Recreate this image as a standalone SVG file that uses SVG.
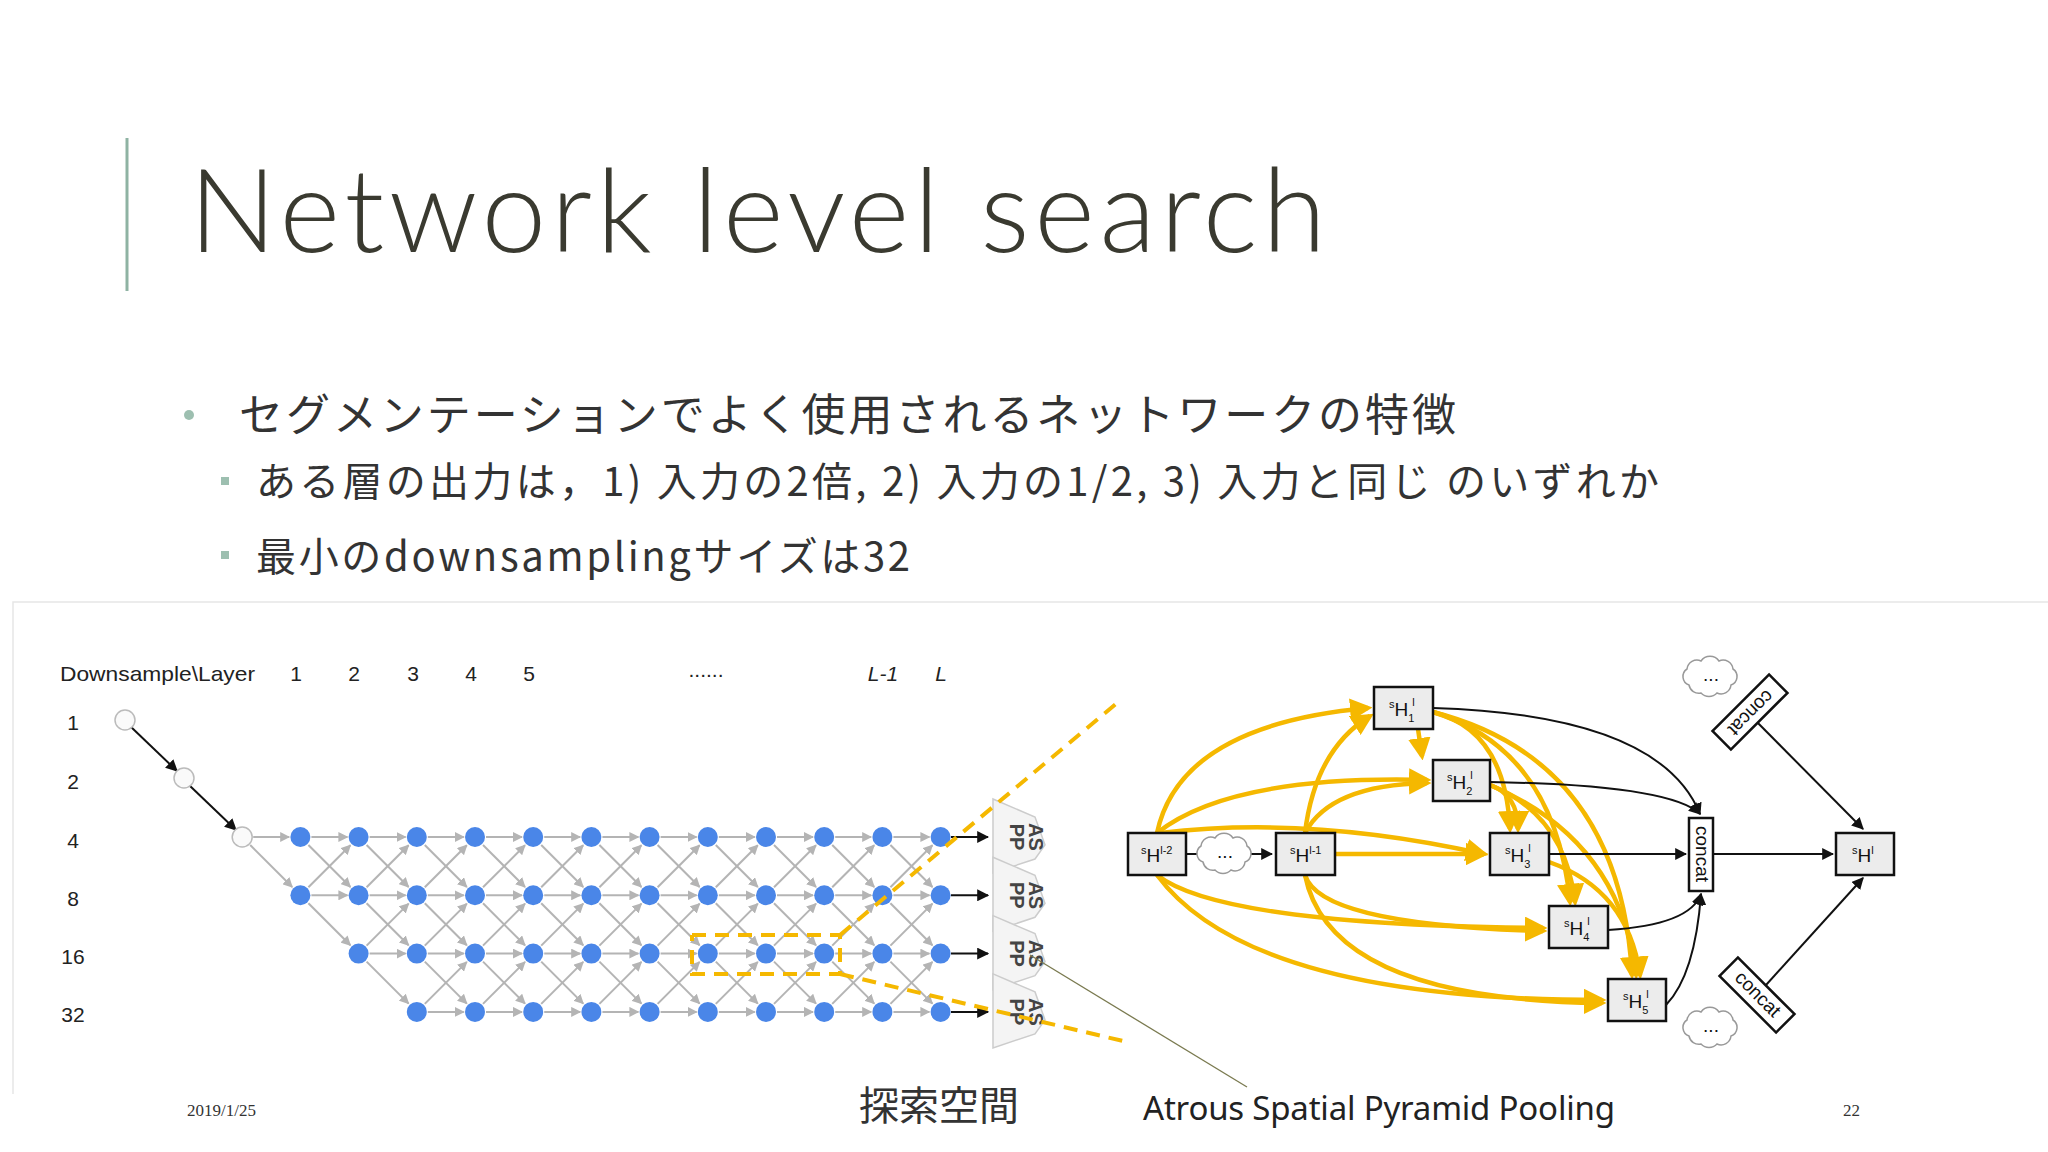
<svg xmlns="http://www.w3.org/2000/svg" xmlns:xlink="http://www.w3.org/1999/xlink" width="2048" height="1152" viewBox="0 0 2048 1152">
<style>
.jp{font-family:"Noto Sans CJK JP","Noto Sans",sans-serif;fill:#333}
.lbl{font-family:"Liberation Sans",Arial,sans-serif;font-size:21px;fill:#222}
.g{stroke:#b4b4b4;stroke-width:2;marker-end:url(#ga)}
.bn{fill:#4a86e8}
.wn{fill:#fafafa;stroke:#bbb;stroke-width:1.5}
.y{fill:none;stroke:#f5b800;stroke-width:4.5;marker-end:url(#ya)}
.k{fill:none;stroke:#111;stroke-width:2;marker-end:url(#ka)}
.box{fill:#ececec;stroke:#111;stroke-width:2.5}
.ht{font-family:"Liberation Sans",Arial,sans-serif;font-size:19px;fill:#111}
.cl{fill:#fff;stroke:#999;stroke-width:1.5}
.aspp{fill:#f4f4f4;stroke:#ccc;stroke-width:1.5}
.at{font-family:"Liberation Sans",Arial,sans-serif;font-size:20px;font-weight:bold;fill:#444}
</style>
<defs>
<marker id="ga" viewBox="0 0 10 10" refX="9" refY="5" markerWidth="5" markerHeight="5" orient="auto"><path d="M0,0L10,5L0,10z" fill="#b4b4b4"/></marker>
<marker id="ya" viewBox="0 0 10 10" refX="8" refY="5" markerWidth="5" markerHeight="5" orient="auto"><path d="M0,0L10,5L0,10z" fill="#f5b800"/></marker>
<marker id="ka" viewBox="0 0 10 10" refX="9" refY="5" markerWidth="6" markerHeight="6" orient="auto"><path d="M0,0L10,5L0,10z" fill="#111"/></marker>
<line id="h" class="g" x1="11" y1="0" x2="47" y2="0"/>
<line id="d" class="g" x1="8" y1="8" x2="50" y2="50"/>
<line id="u" class="g" x1="8" y1="-8" x2="50" y2="-50"/>
<path id="cloud" class="cl" d="M-22,8 a9,9 0 0 1 -2,-16 a10,10 0 0 1 14,-8 a11,11 0 0 1 18,0 a10,10 0 0 1 14,8 a9,9 0 0 1 -2,16 a10,10 0 0 1 -14,8 a11,11 0 0 1 -16,0 a10,10 0 0 1 -12,-8z"/>
<polygon id="asp" class="aspp" points="0,-38 42,-20 52,8 42,22 0,36"/>
</defs>
<rect width="2048" height="1152" fill="#fff"/>
<line x1="127" y1="138" x2="127" y2="291" stroke="#8fb3a3" stroke-width="3"/>
<text x="189" y="252" font-family="Lato,'Noto Sans',sans-serif" font-weight="300" font-size="116" fill="#3a3a30" textLength="1137" lengthAdjust="spacing">Network level search</text>
<circle cx="189" cy="415" r="5" fill="#9dbfb0"/>
<text class="jp" x="239" y="431" font-size="44" textLength="1217" lengthAdjust="spacing">セグメンテーションでよく使用されるネットワークの特徴</text>
<rect x="221" y="477" width="8" height="8" fill="#9dbfb0"/>
<text class="jp" x="256" y="496" font-size="40" textLength="1403" lengthAdjust="spacing">ある層の出力は，1) 入力の2倍, 2) 入力の1/2, 3) 入力と同じ のいずれか</text>
<rect x="221" y="551" width="8" height="8" fill="#9dbfb0"/>
<text class="jp" x="256" y="571" font-size="40" textLength="654" lengthAdjust="spacing">最小のdownsamplingサイズは32</text>
<path d="M2048,602H13V1094" fill="none" stroke="#e6e6e6" stroke-width="1.5"/>

<g id="headers">
<text class="lbl" x="60" y="681" textLength="195" lengthAdjust="spacingAndGlyphs">Downsample\Layer</text>
<text class="lbl" x="296" y="681" text-anchor="middle">1</text>
<text class="lbl" x="354" y="681" text-anchor="middle">2</text>
<text class="lbl" x="413" y="681" text-anchor="middle">3</text>
<text class="lbl" x="471" y="681" text-anchor="middle">4</text>
<text class="lbl" x="529" y="681" text-anchor="middle">5</text>
<text class="lbl" x="706" y="677" text-anchor="middle">......</text>
<text class="lbl" x="883" y="681" text-anchor="middle" font-style="italic">L-1</text>
<text class="lbl" x="941" y="681" text-anchor="middle" font-style="italic">L</text>
<text class="lbl" x="73" y="730" text-anchor="middle">1</text>
<text class="lbl" x="73" y="789" text-anchor="middle">2</text>
<text class="lbl" x="73" y="848" text-anchor="middle">4</text>
<text class="lbl" x="73" y="906" text-anchor="middle">8</text>
<text class="lbl" x="73" y="964" text-anchor="middle">16</text>
<text class="lbl" x="73" y="1022" text-anchor="middle">32</text>
</g>

<g id="grid-edges">
<line class="k" x1="130" y1="726" x2="177" y2="771"/>
<line class="k" x1="189" y1="785" x2="236" y2="830"/>
<g transform="translate(0,837)">
<use href="#h" x="242.2"/><use href="#h" x="300.4"/><use href="#h" x="358.6"/><use href="#h" x="416.8"/><use href="#h" x="475"/><use href="#h" x="533.2"/><use href="#h" x="591.4"/><use href="#h" x="649.6"/><use href="#h" x="707.8"/><use href="#h" x="766"/><use href="#h" x="824.2"/><use href="#h" x="882.4"/>
<use href="#d" x="242.2"/><use href="#d" x="300.4"/><use href="#d" x="358.6"/><use href="#d" x="416.8"/><use href="#d" x="475"/><use href="#d" x="533.2"/><use href="#d" x="591.4"/><use href="#d" x="649.6"/><use href="#d" x="707.8"/><use href="#d" x="766"/><use href="#d" x="824.2"/><use href="#d" x="882.4"/>
</g>
<g transform="translate(0,895.3)">
<use href="#h" x="300.4"/><use href="#h" x="358.6"/><use href="#h" x="416.8"/><use href="#h" x="475"/><use href="#h" x="533.2"/><use href="#h" x="591.4"/><use href="#h" x="649.6"/><use href="#h" x="707.8"/><use href="#h" x="766"/><use href="#h" x="824.2"/><use href="#h" x="882.4"/>
<use href="#d" x="300.4"/><use href="#d" x="358.6"/><use href="#d" x="416.8"/><use href="#d" x="475"/><use href="#d" x="533.2"/><use href="#d" x="591.4"/><use href="#d" x="649.6"/><use href="#d" x="707.8"/><use href="#d" x="766"/><use href="#d" x="824.2"/><use href="#d" x="882.4"/>
<use href="#u" x="300.4"/><use href="#u" x="358.6"/><use href="#u" x="416.8"/><use href="#u" x="475"/><use href="#u" x="533.2"/><use href="#u" x="591.4"/><use href="#u" x="649.6"/><use href="#u" x="707.8"/><use href="#u" x="766"/><use href="#u" x="824.2"/><use href="#u" x="882.4"/>
</g>
<g transform="translate(0,953.6)">
<use href="#h" x="358.6"/><use href="#h" x="416.8"/><use href="#h" x="475"/><use href="#h" x="533.2"/><use href="#h" x="591.4"/><use href="#h" x="649.6"/><use href="#h" x="707.8"/><use href="#h" x="766"/><use href="#h" x="824.2"/><use href="#h" x="882.4"/>
<use href="#d" x="358.6"/><use href="#d" x="416.8"/><use href="#d" x="475"/><use href="#d" x="533.2"/><use href="#d" x="591.4"/><use href="#d" x="649.6"/><use href="#d" x="707.8"/><use href="#d" x="766"/><use href="#d" x="824.2"/><use href="#d" x="882.4"/>
<use href="#u" x="358.6"/><use href="#u" x="416.8"/><use href="#u" x="475"/><use href="#u" x="533.2"/><use href="#u" x="591.4"/><use href="#u" x="649.6"/><use href="#u" x="707.8"/><use href="#u" x="766"/><use href="#u" x="824.2"/><use href="#u" x="882.4"/>
</g>
<g transform="translate(0,1011.9)">
<use href="#h" x="416.8"/><use href="#h" x="475"/><use href="#h" x="533.2"/><use href="#h" x="591.4"/><use href="#h" x="649.6"/><use href="#h" x="707.8"/><use href="#h" x="766"/><use href="#h" x="824.2"/><use href="#h" x="882.4"/>
<use href="#u" x="416.8"/><use href="#u" x="475"/><use href="#u" x="533.2"/><use href="#u" x="591.4"/><use href="#u" x="649.6"/><use href="#u" x="707.8"/><use href="#u" x="766"/><use href="#u" x="824.2"/><use href="#u" x="882.4"/>
</g>
<line class="k" x1="951" y1="837" x2="988" y2="837" stroke-width="2.5"/>
<line class="k" x1="951" y1="895.3" x2="988" y2="895.3" stroke-width="2.5"/>
<line class="k" x1="951" y1="953.6" x2="988" y2="953.6" stroke-width="2.5"/>
<line class="k" x1="951" y1="1011.9" x2="988" y2="1011.9" stroke-width="2.5"/>
</g>

<g id="grid-nodes">
<circle class="wn" cx="125" cy="720" r="10"/><circle class="wn" cx="184" cy="778" r="10"/><circle class="wn" cx="242.2" cy="837" r="10"/>
<g class="bn">
<circle cx="300.4" cy="837" r="10"/><circle cx="358.6" cy="837" r="10"/><circle cx="416.8" cy="837" r="10"/><circle cx="475" cy="837" r="10"/><circle cx="533.2" cy="837" r="10"/><circle cx="591.4" cy="837" r="10"/><circle cx="649.6" cy="837" r="10"/><circle cx="707.8" cy="837" r="10"/><circle cx="766" cy="837" r="10"/><circle cx="824.2" cy="837" r="10"/><circle cx="882.4" cy="837" r="10"/><circle cx="940.6" cy="837" r="10"/>
<circle cx="300.4" cy="895.3" r="10"/><circle cx="358.6" cy="895.3" r="10"/><circle cx="416.8" cy="895.3" r="10"/><circle cx="475" cy="895.3" r="10"/><circle cx="533.2" cy="895.3" r="10"/><circle cx="591.4" cy="895.3" r="10"/><circle cx="649.6" cy="895.3" r="10"/><circle cx="707.8" cy="895.3" r="10"/><circle cx="766" cy="895.3" r="10"/><circle cx="824.2" cy="895.3" r="10"/><circle cx="882.4" cy="895.3" r="10"/><circle cx="940.6" cy="895.3" r="10"/>
<circle cx="358.6" cy="953.6" r="10"/><circle cx="416.8" cy="953.6" r="10"/><circle cx="475" cy="953.6" r="10"/><circle cx="533.2" cy="953.6" r="10"/><circle cx="591.4" cy="953.6" r="10"/><circle cx="649.6" cy="953.6" r="10"/><circle cx="707.8" cy="953.6" r="10"/><circle cx="766" cy="953.6" r="10"/><circle cx="824.2" cy="953.6" r="10"/><circle cx="882.4" cy="953.6" r="10"/><circle cx="940.6" cy="953.6" r="10"/>
<circle cx="416.8" cy="1011.9" r="10"/><circle cx="475" cy="1011.9" r="10"/><circle cx="533.2" cy="1011.9" r="10"/><circle cx="591.4" cy="1011.9" r="10"/><circle cx="649.6" cy="1011.9" r="10"/><circle cx="707.8" cy="1011.9" r="10"/><circle cx="766" cy="1011.9" r="10"/><circle cx="824.2" cy="1011.9" r="10"/><circle cx="882.4" cy="1011.9" r="10"/><circle cx="940.6" cy="1011.9" r="10"/>
</g>
</g>

<g id="aspp">
<use href="#asp" x="993" y="837"/><use href="#asp" x="993" y="895.3"/><use href="#asp" x="993" y="953.6"/><use href="#asp" x="993" y="1011.9"/>
<text class="at" transform="translate(1022,837) rotate(90)" text-anchor="middle" y="-7">AS</text>
<text class="at" transform="translate(1022,837) rotate(90)" text-anchor="middle" y="12">PP</text>
<text class="at" transform="translate(1022,895.3) rotate(90)" text-anchor="middle" y="-7">AS</text>
<text class="at" transform="translate(1022,895.3) rotate(90)" text-anchor="middle" y="12">PP</text>
<text class="at" transform="translate(1022,953.6) rotate(90)" text-anchor="middle" y="-7">AS</text>
<text class="at" transform="translate(1022,953.6) rotate(90)" text-anchor="middle" y="12">PP</text>
<text class="at" transform="translate(1022,1011.9) rotate(90)" text-anchor="middle" y="-7">AS</text>
<text class="at" transform="translate(1022,1011.9) rotate(90)" text-anchor="middle" y="12">PP</text>
</g>

<g id="highlight" fill="none" stroke="#f5b800" stroke-width="4" stroke-dasharray="14,9">
<path d="M692,935H840V974H692V935"/>
<line x1="840" y1="935" x2="1117" y2="703"/>
<line x1="840" y1="974" x2="1123" y2="1041"/>
</g>
<line x1="1030" y1="955" x2="1247" y2="1087" stroke="#7a7a50" stroke-width="1.3"/>

<g id="connectors">
<path class="y" d="M1157,833 Q1180,725 1368,708"/>
<path class="y" d="M1157,833 Q1230,775 1427,780"/>
<path class="y" d="M1160,833 Q1310,815 1484,854"/>
<path class="y" d="M1157,875 Q1220,925 1543,928"/>
<path class="y" d="M1157,875 Q1250,1000 1602,1000"/>
<path class="y" d="M1305,833 Q1315,750 1370,716"/>
<path class="y" d="M1305,833 Q1330,785 1427,783"/>
<path class="y" d="M1335,854 L1484,854"/>
<path class="y" d="M1305,875 Q1320,925 1543,931"/>
<path class="y" d="M1305,875 Q1330,1000 1602,1003"/>
<path class="y" d="M1418,729 L1422,756"/>
<path class="y" d="M1433,712 Q1505,730 1510,829"/>
<path class="y" d="M1433,712 Q1555,750 1570,902"/>
<path class="y" d="M1433,712 Q1620,760 1632,975"/>
<path class="y" d="M1490,785 Q1518,795 1518,829"/>
<path class="y" d="M1490,785 Q1565,815 1575,902"/>
<path class="y" d="M1490,785 Q1620,840 1636,975"/>
<path class="y" d="M1549,862 Q1628,890 1640,975"/>
<path class="k" d="M1433,708 Q1660,715 1700,814"/>
<path class="k" d="M1490,782 Q1670,785 1700,814"/>
<path class="k" d="M1549,854 L1686,854"/>
<path class="k" d="M1608,930 Q1690,925 1701,894"/>
<path class="k" d="M1666,1005 Q1695,975 1701,894"/>
<path class="k" d="M1713,854 L1833,854"/>
<path class="k" d="M1750,715 L1863,829"/>
<path class="k" d="M1757,995 L1863,878"/>
<line x1="1186" y1="854" x2="1200" y2="854" stroke="#111" stroke-width="2"/>
<path class="k" d="M1251,854 L1272,854"/>
</g>

<g id="clouds">
<use href="#cloud" x="1225" y="854"/>
<use href="#cloud" x="1711" y="677"/>
<use href="#cloud" x="1711" y="1028"/>
<text class="ht" x="1225" y="858" text-anchor="middle" font-size="12">...</text>
<text class="ht" x="1711" y="681" text-anchor="middle" font-size="12">...</text>
<text class="ht" x="1711" y="1032" text-anchor="middle" font-size="12">...</text>
</g>

<g id="nHl2"><rect class="box" x="1128" y="833" width="58" height="42"/><text class="ht" x="1141" y="862"><tspan font-size="11" dy="-8">s</tspan><tspan dy="8">H</tspan><tspan font-size="11" dy="-8">l-2</tspan></text></g>
<g id="nHl1"><rect class="box" x="1276" y="833" width="59" height="42"/><text class="ht" x="1290" y="862"><tspan font-size="11" dy="-8">s</tspan><tspan dy="8">H</tspan><tspan font-size="11" dy="-8">l-1</tspan></text></g>
<g id="nH1"><rect class="box" x="1374" y="687" width="59" height="42"/><text class="ht" x="1389" y="716"><tspan font-size="11" dy="-8">s</tspan><tspan dy="8">H</tspan><tspan font-size="11" dy="6">1</tspan><tspan font-size="11" dx="-2" dy="-16">l</tspan></text></g>
<g id="nH2"><rect class="box" x="1433" y="760" width="57" height="41"/><text class="ht" x="1447" y="789"><tspan font-size="11" dy="-8">s</tspan><tspan dy="8">H</tspan><tspan font-size="11" dy="6">2</tspan><tspan font-size="11" dx="-2" dy="-16">l</tspan></text></g>
<g id="nH3"><rect class="box" x="1490" y="833" width="59" height="42"/><text class="ht" x="1505" y="862"><tspan font-size="11" dy="-8">s</tspan><tspan dy="8">H</tspan><tspan font-size="11" dy="6">3</tspan><tspan font-size="11" dx="-2" dy="-16">l</tspan></text></g>
<g id="nH4"><rect class="box" x="1549" y="906" width="59" height="42"/><text class="ht" x="1564" y="935"><tspan font-size="11" dy="-8">s</tspan><tspan dy="8">H</tspan><tspan font-size="11" dy="6">4</tspan><tspan font-size="11" dx="-2" dy="-16">l</tspan></text></g>
<g id="nH5"><rect class="box" x="1608" y="979" width="58" height="42"/><text class="ht" x="1623" y="1008"><tspan font-size="11" dy="-8">s</tspan><tspan dy="8">H</tspan><tspan font-size="11" dy="6">5</tspan><tspan font-size="11" dx="-2" dy="-16">l</tspan></text></g>
<g id="nConcat"><rect x="1689" y="818" width="24" height="73" fill="#fff" stroke="#111" stroke-width="2.5"/><text class="ht" font-size="15" transform="translate(1701,854) rotate(90)" text-anchor="middle" y="5">concat</text></g>
<g id="nHl"><rect class="box" x="1836" y="833" width="58" height="42"/><text class="ht" x="1852" y="862"><tspan font-size="11" dy="-8">s</tspan><tspan dy="8">H</tspan><tspan font-size="11" dy="-8">l</tspan></text></g>
<g id="nConcatTop" transform="translate(1750,712) rotate(135)"><rect x="-40" y="-13" width="80" height="26" fill="#fff" stroke="#111" stroke-width="2.5"/><text class="ht" font-size="15" text-anchor="middle" y="5">concat</text></g>
<g id="nConcatBot" transform="translate(1757,995) rotate(45)"><rect x="-40" y="-13" width="80" height="26" fill="#fff" stroke="#111" stroke-width="2.5"/><text class="ht" font-size="15" text-anchor="middle" y="5">concat</text></g>

<text class="jp" x="859" y="1120" font-size="40">探索空間</text>
<text x="1143" y="1120" font-family="'Noto Sans',sans-serif" font-size="33" fill="#222" textLength="472" lengthAdjust="spacing">Atrous Spatial Pyramid Pooling</text>
<text x="187" y="1116" font-family="'Liberation Serif',serif" font-size="17" fill="#333">2019/1/25</text>
<text x="1843" y="1116" font-family="'Liberation Serif',serif" font-size="17" fill="#333">22</text>
</svg>
